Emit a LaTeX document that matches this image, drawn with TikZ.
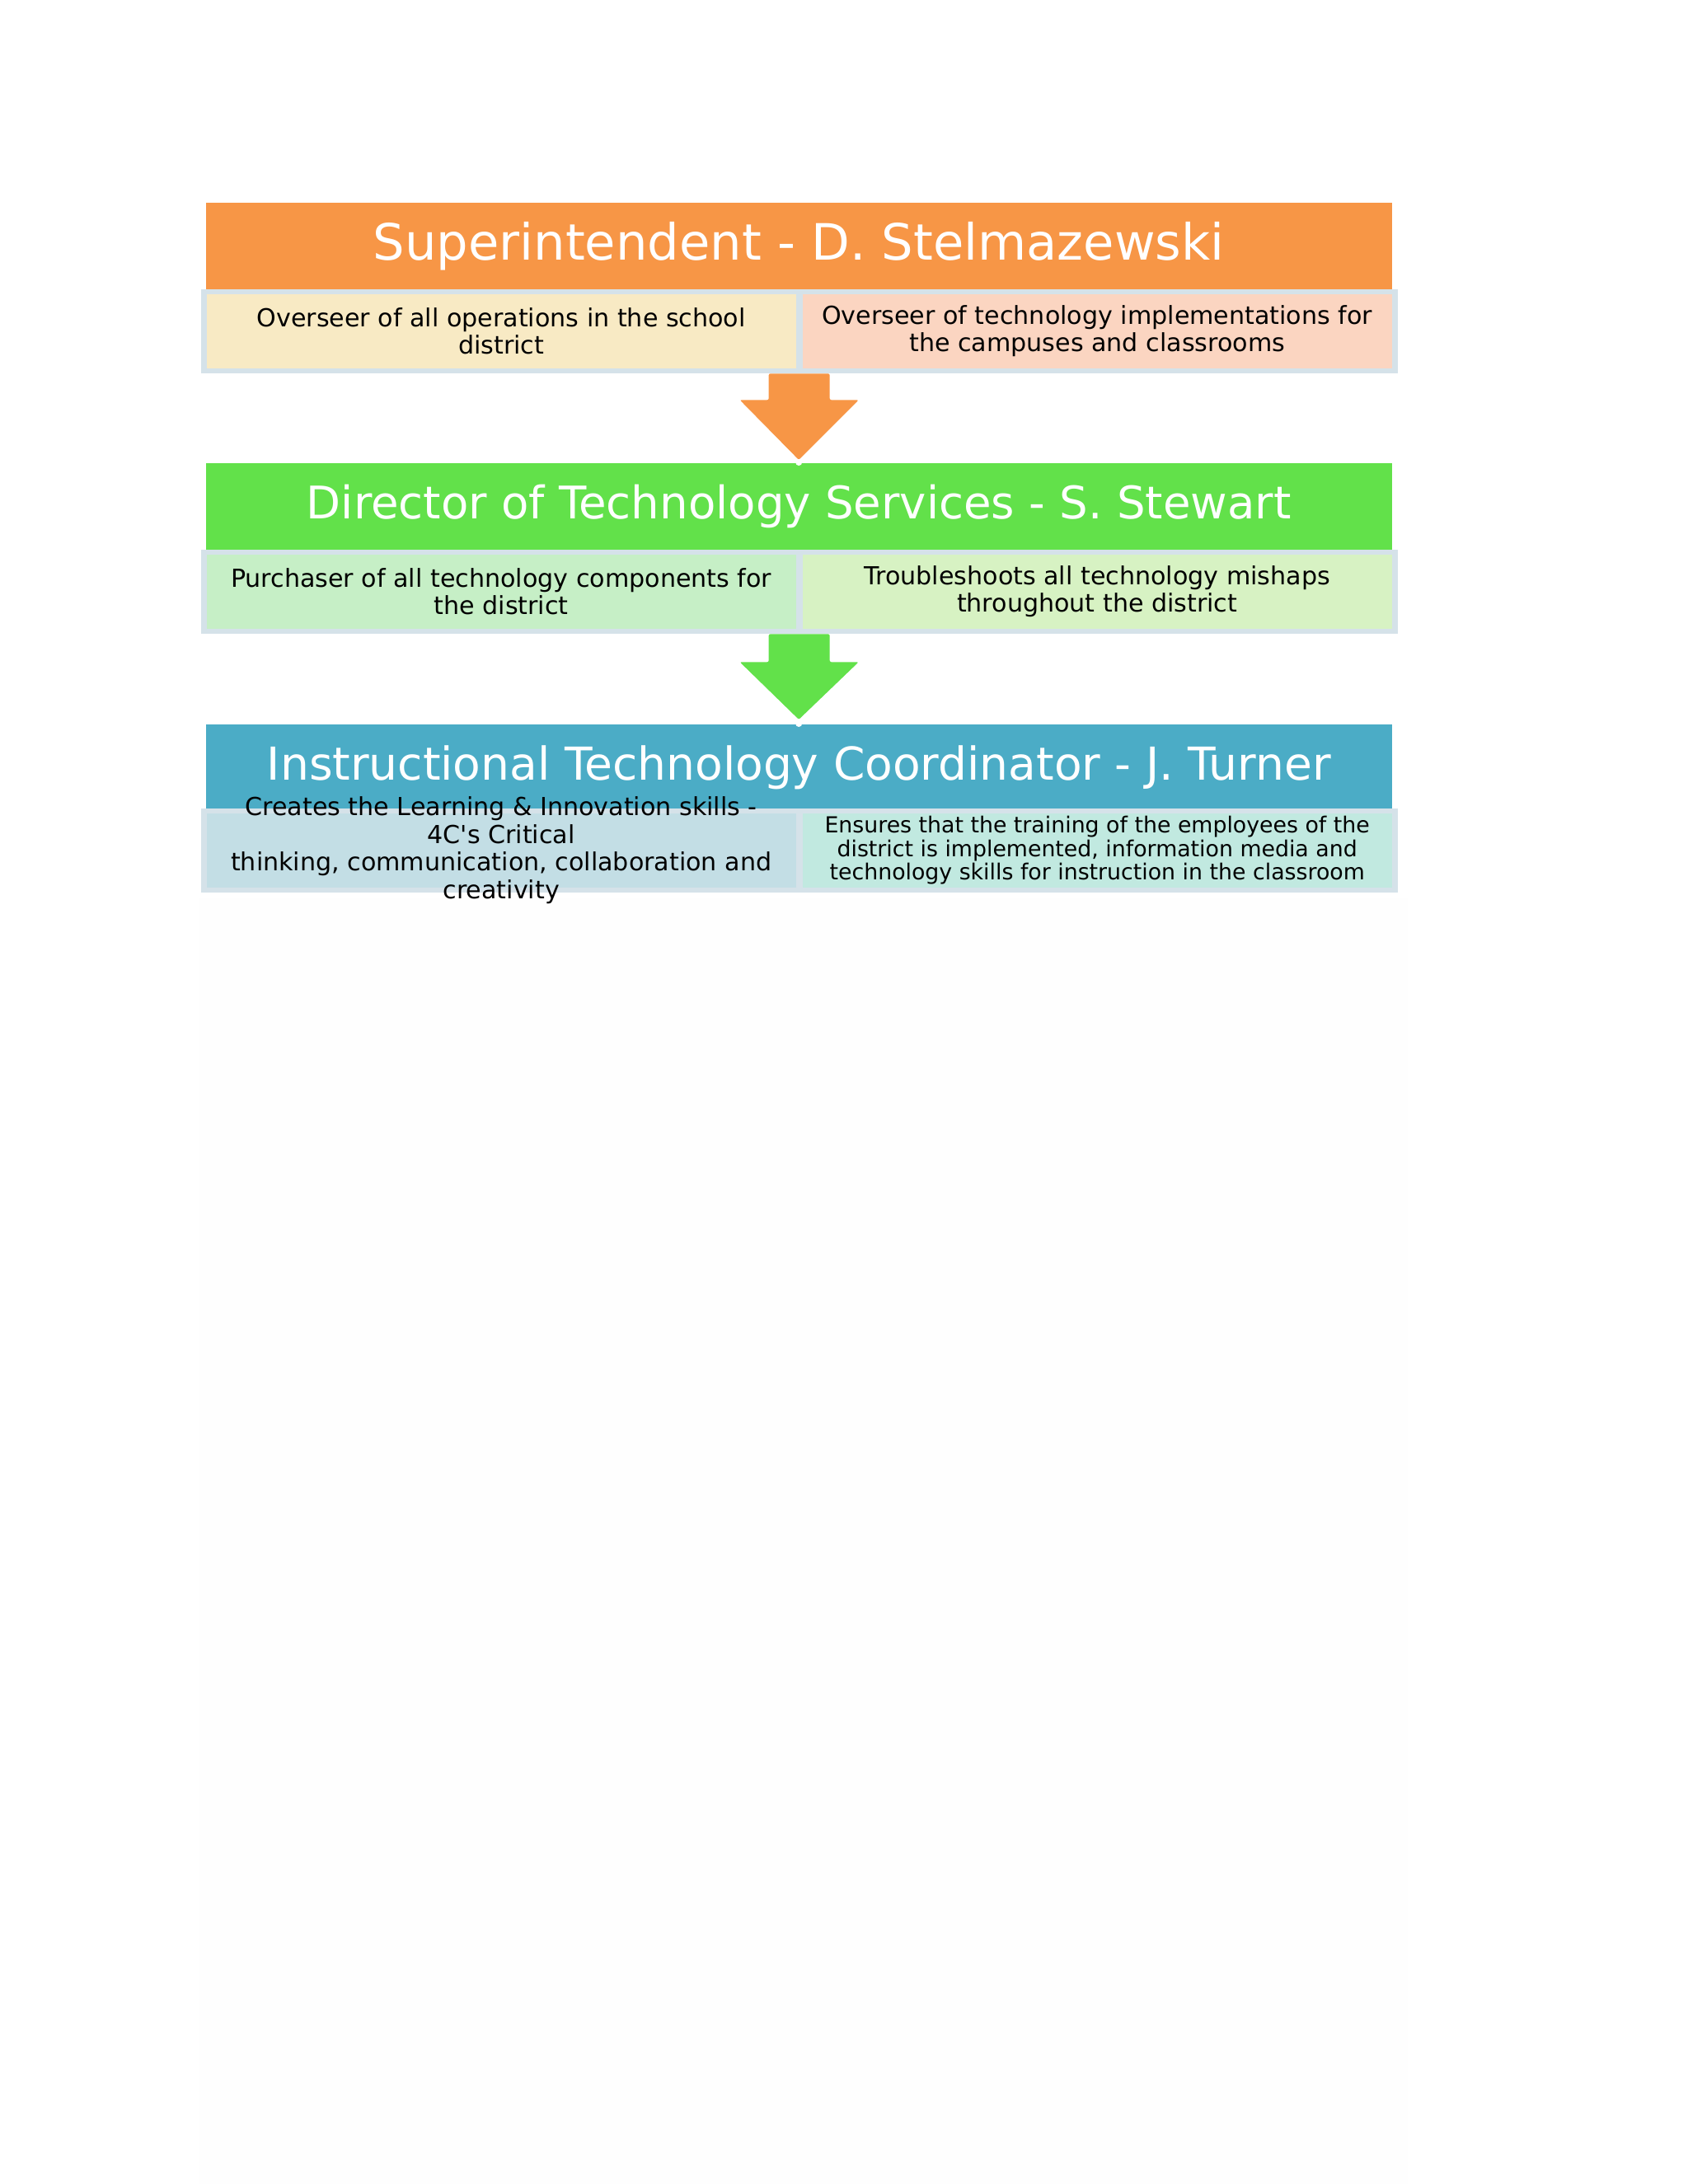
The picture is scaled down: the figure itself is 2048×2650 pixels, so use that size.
\documentclass[tikz,border=0pt]{standalone}
\usepackage{fontspec}
\setmainfont{DejaVu Sans}
\usetikzlibrary{calc}
\definecolor{pagefaint}{HTML}{FEFEFE}
\definecolor{panelBorder}{HTML}{D5E2E9}
\definecolor{hdrOrange}{HTML}{F79646}
\definecolor{hdrGreen}{HTML}{62E14A}
\definecolor{hdrBlue}{HTML}{4BACC6}
\definecolor{cellOneL}{HTML}{F8EAC4}
\definecolor{cellOneR}{HTML}{FBD5C1}
\definecolor{cellTwoL}{HTML}{C6EFC6}
\definecolor{cellTwoR}{HTML}{D7F2C3}
\definecolor{cellThreeL}{HTML}{C3DEE5}
\definecolor{cellThreeR}{HTML}{C1E9E0}
\newcommand\pxu{0.29883pt}
\tikzset{
  hdr/.style={rectangle, inner sep=0pt, anchor=north west, text=white,
    minimum width=1439*\pxu, minimum height=106*\pxu},
  panelbox/.style={rectangle, inner sep=0pt, anchor=north west, fill=panelBorder,
    minimum width=1452*\pxu, minimum height=102*\pxu},
  cellbox/.style={rectangle, inner sep=0pt, anchor=north west,
    minimum width=715*\pxu, minimum height=90*\pxu},
  celltext/.style={inner sep=0pt, align=center, text=black},
  bodytext/.style={font=\fontsize{9}{10.1}\selectfont},
}
\begin{document}
\begin{tikzpicture}[x=0.29883pt,y=-0.29883pt]
\useasboundingbox (0,0) rectangle (2048,2650);
\fill[pagefaint] (241,1090) rectangle (1708,2650);

% ---- block 1
\node[hdr, fill=hdrOrange, font=\fontsize{18.15}{21}\selectfont] (h1) at (249,245) {Superintendent - D. Stelmazewski};
\node[panelbox] (p1) at (243,350) {};
\node[cellbox, fill=cellOneL] (c1a) at (250,356) {};
\node[cellbox, fill=cellOneR] (c1b) at (973,356) {};
\node[celltext, bodytext] (t1a) at (c1a.center) {Overseer of all operations in the school\\district};
\node[celltext, bodytext] (t1b) at (c1b.center) {Overseer of technology implementations for\\the campuses and classrooms};

% ---- block 2
\node[hdr, fill=hdrGreen, font=\fontsize{16.3}{19}\selectfont] (h2) at (249,561) {Director of Technology Services - S. Stewart};
\node[panelbox] (p2) at (243,666) {};
\node[cellbox, fill=cellTwoL] (c2a) at (250,672) {};
\node[cellbox, fill=cellTwoR] (c2b) at (973,672) {};
\node[celltext, bodytext] (t2a) at (c2a.center) {Purchaser of all technology components for\\the district};
\node[celltext, bodytext] (t2b) at (c2b.center) {Troubleshoots all technology mishaps\\throughout the district};

% ---- block 3
\node[hdr, fill=hdrBlue, font=\fontsize{16.45}{19}\selectfont] (h3) at (249,878) {Instructional Technology Coordinator - J. Turner};
\node[panelbox] (p3) at (243,980) {};
\node[cellbox, fill=cellThreeL] (c3a) at (250,986) {};
\node[cellbox, fill=cellThreeR] (c3b) at (973,986) {};
\node[celltext, font=\fontsize{9}{10}\selectfont] (t3a) at (c3a.center) {Creates the Learning \& Innovation skills -\\4C\textquotesingle s Critical\\thinking, communication, collaboration and\\creativity};
\node[celltext, font=\fontsize{8}{8.5}\selectfont] (t3b) at (c3b.center) {Ensures that the training of the employees of the\\district is implemented, information media and\\technology skills for instruction in the classroom};

% ---- block arrows
\fill[hdrOrange, rounded corners=0.6pt]
  ($(p1.south)+(-37,0)$) -- ($(p1.south)+(37,0)$) -- ($(p1.south)+(37,32)$)
  -- ($(p1.south)+(72,32)$) -- ($(h2.north)+(0,-3)$) -- ($(p1.south)+(-72,32)$)
  -- ($(p1.south)+(-37,32)$) -- cycle;
\fill[white] (h2.north) circle[radius=4];
\fill[hdrGreen, rounded corners=0.6pt]
  ($(p2.south)+(-37,0)$) -- ($(p2.south)+(37,0)$) -- ($(p2.south)+(37,34)$)
  -- ($(p2.south)+(72,34)$) -- ($(h3.north)+(0,-5)$) -- ($(p2.south)+(-72,34)$)
  -- ($(p2.south)+(-37,34)$) -- cycle;
\fill[white] (h3.north) circle[radius=4];
\end{tikzpicture}
\end{document}
